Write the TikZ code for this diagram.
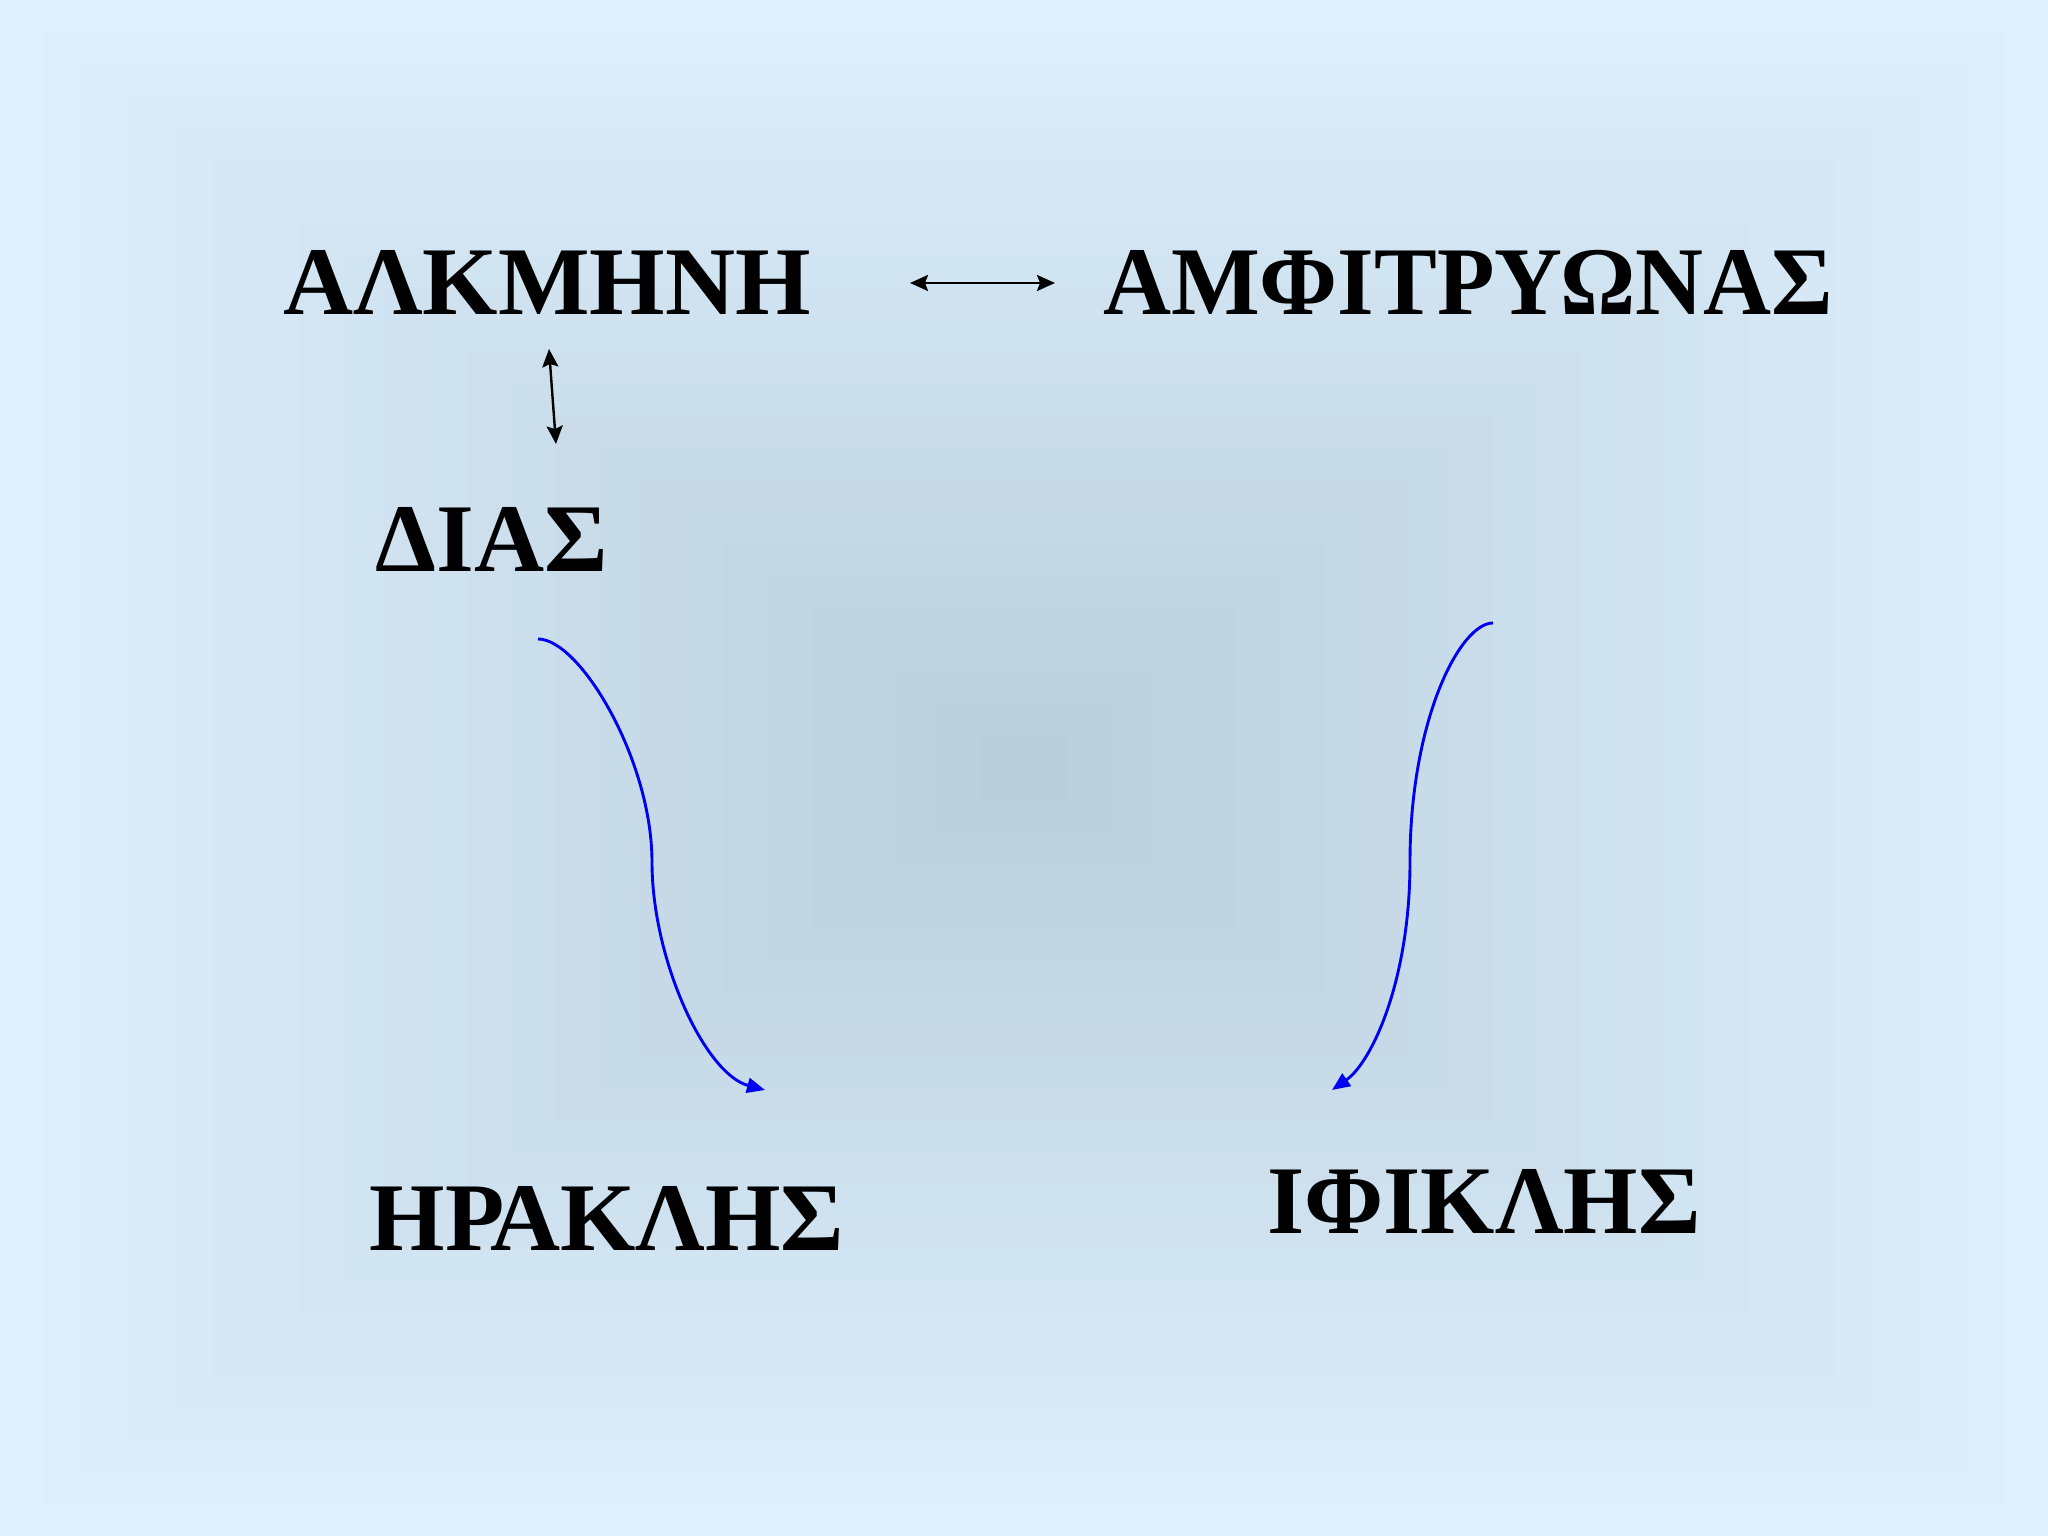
\documentclass[tikz,border=0pt]{standalone}
\usepackage{fontspec}
\setmainfont{Liberation Serif}
\usetikzlibrary{arrows.meta}
\definecolor{bgout}{RGB}{222,240,253}
\definecolor{bgin}{RGB}{186,205,218}
\definecolor{curveblue}{RGB}{0,0,240}
\tikzset{
  persona/.style={inner sep=0pt, anchor=base, font=\fontsize{97}{100}\selectfont\bfseries, text=black},
  blackarrow/.style={line width=2.4pt, draw=black, {Stealth[length=18pt,width=16pt,inset=3pt]}-{Stealth[length=18pt,width=16pt,inset=3pt]}},
  bluearrow/.style={line width=2.9pt, draw=curveblue, -{Triangle[length=18pt,width=15pt]}},
}
\begin{document}
\begin{tikzpicture}[x=1pt,y=1pt]
\useasboundingbox (0,0) rectangle (2048,1536);
% background rectangular gradient
\foreach \i in {0,...,23}{
  \pgfmathsetmacro{\f}{\i/24}
  \pgfmathsetmacro{\p}{100*\i/23}
  \pgfmathsetmacro{\hw}{1024*(1-\f)}
  \pgfmathsetmacro{\hh}{768*(1-\f)}
  \fill[bgin!\p!bgout] (1024-\hw,768-\hh) rectangle (1024+\hw,768+\hh);
}
% names
\node[persona] (alk) at (547,1221) {ΑΛΚΜΗΝΗ};
\node[persona, xscale=0.97, transform shape] (amf) at (1468,1221) {ΑΜΦΙΤΡΥΩΝΑΣ};
\node[persona] (dias) at (492,964) {ΔΙΑΣ};
\node[persona] (her) at (607,285) {ΗΡΑΚΛΗΣ};
\node[persona, xscale=0.985, transform shape] (ifi) at (1484,302) {ΙΦΙΚΛΗΣ};
% connector end points
\coordinate (h1) at (910,1253);
\coordinate (h2) at (1055,1253);
\coordinate (v1) at (549,1187);
\coordinate (v2) at (556,1092);
\coordinate (l1) at (538,897);
\coordinate (lm) at (652,674);
\coordinate (l2) at (765,446);
\coordinate (r1) at (1493,913);
\coordinate (rm) at (1410,674);
\coordinate (r2) at (1332,446);
% connectors
\draw[blackarrow] (h1) -- (h2);
\draw[blackarrow] (v1) -- (v2);
\draw[bluearrow] (l1) .. controls (580,897) and (652,776) .. (lm)
  .. controls (652,576) and (705,462) .. (l2);
\draw[bluearrow] (r1) .. controls (1460,913) and (1410,816) .. (rm)
  .. controls (1410,556) and (1372,474) .. (r2);
\end{tikzpicture}
\end{document}
